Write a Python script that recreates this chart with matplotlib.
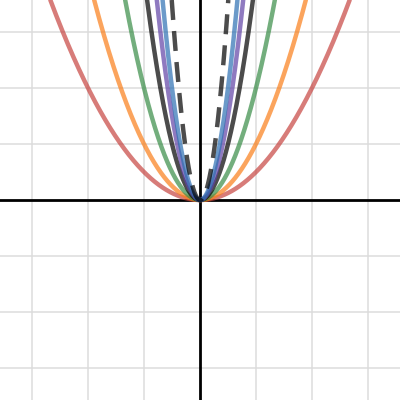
import numpy as np
import matplotlib
matplotlib.use("Agg")
import matplotlib.pyplot as plt

coefs = [0.5, 1, 2, 4, 6, 8, 14]
colors = ["#c74440", "#fa7e19", "#388c46", "#000000", "#6042a6", "#2d70b3", "#000000"]
styles = ["-", "-", "-", "-", "-", "-", "dashed"]
grid_vals = [-3, -2, -1, 1, 2, 3]

fig = plt.figure(figsize=(4, 4), dpi=100)
ax = fig.add_axes([0, 0, 1, 1])
lim = 200 / 56
ax.set_xlim(-lim, lim)
ax.set_ylim(-lim, lim)
ax.axis("off")

for g in grid_vals:
    ax.axvline(g, color="#dcdcdc", lw=1.1, zorder=0)
    ax.axhline(g, color="#dcdcdc", lw=1.1, zorder=0)
ax.axvline(0, color="black", lw=2.0, zorder=1)
ax.axhline(0, color="black", lw=2.0, zorder=1)

for a, c, s in zip(coefs, colors, styles):
    xm = min(lim, np.sqrt(lim / a))
    x = np.linspace(-xm, xm, 2001)
    if s == "dashed":
        ax.plot(x, a * x**2, color=c, alpha=0.7, lw=3.2, linestyle=(0, (4.5, 2.5)), zorder=3,
                dash_capstyle="butt")
    else:
        ax.plot(x, a * x**2, color=c, alpha=0.7, lw=3.2, zorder=2, solid_capstyle="round")

fig.savefig("out.png", dpi=100)
